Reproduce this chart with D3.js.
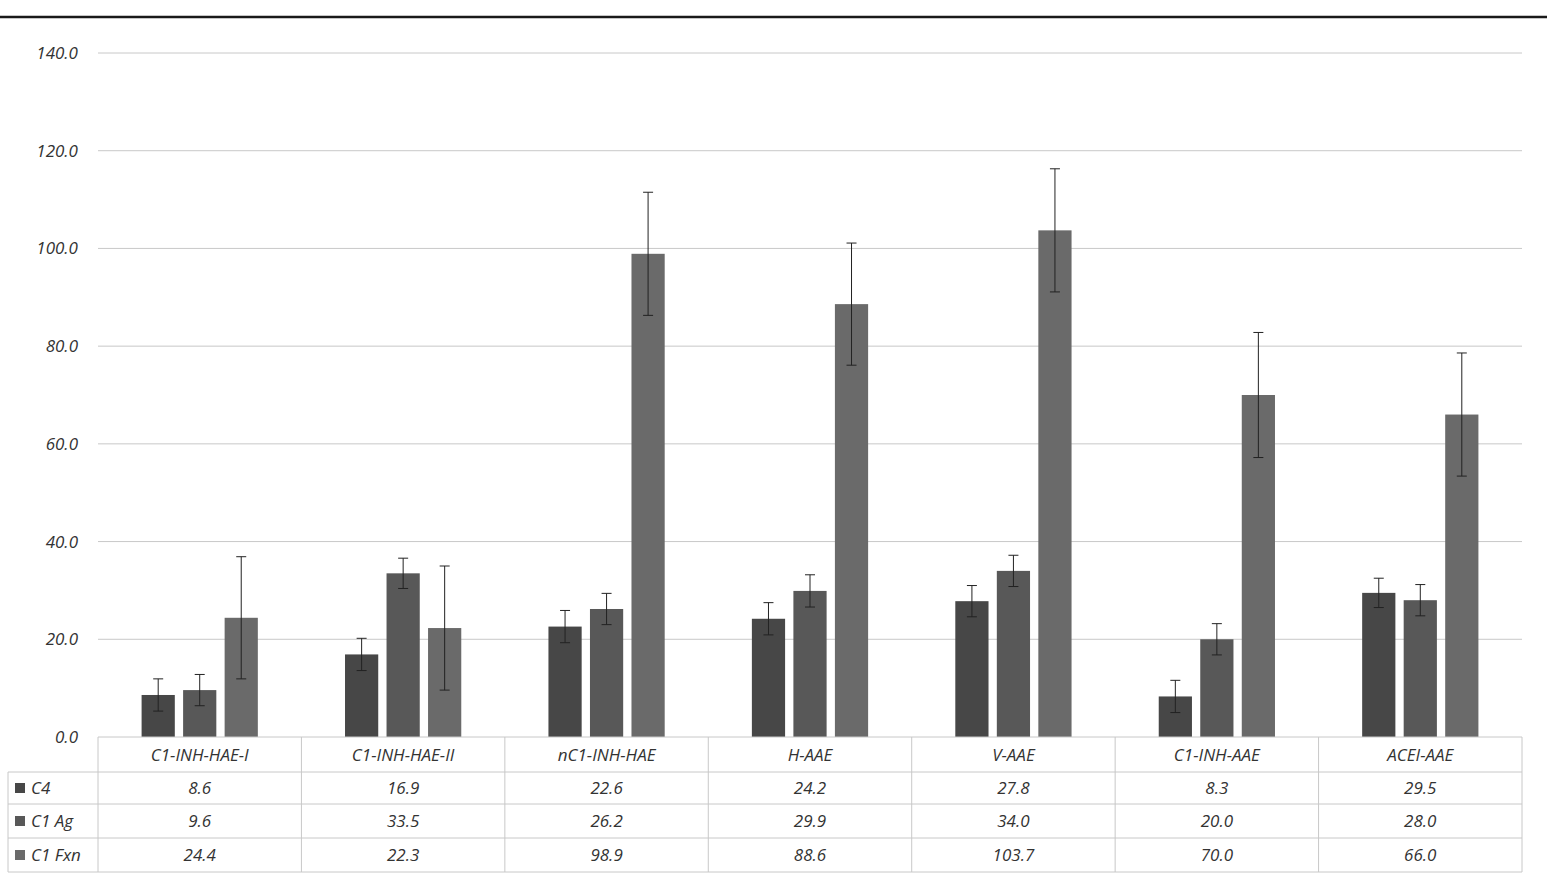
<!DOCTYPE html>
<html><head><meta charset="utf-8">
<script src="https://cdn.jsdelivr.net/npm/d3@7"></script>
<style>body{margin:0;background:#fff}text{font-family:"Open Sans",sans-serif;font-style:italic;fill:#333}</style>
</head><body><svg id="c" width="1547" height="886"></svg>
<script>
const categories = ["C1-INH-HAE-I","C1-INH-HAE-II","nC1-INH-HAE","H-AAE","V-AAE","C1-INH-AAE","ACEI-AAE"];
const seriesNames = ["C4","C1 Ag","C1 Fxn"];
const c4 = [8.6,16.9,22.6,24.2,27.8,8.3,29.5];
const c1ag = [9.6,33.5,26.2,29.9,34.0,20.0,28.0];
const c1fxn = [24.4,22.3,98.9,88.6,103.7,70.0,66.0];
const c4Err = [3.3,3.3,3.3,3.3,3.2,3.3,3.0];
const c1agErr = [3.2,3.1,3.2,3.3,3.2,3.2,3.2];
const c1fxnErr = [12.5,12.7,12.6,12.5,12.6,12.8,12.6];
const yTicks = [0,20,40,60,80,100,120,140];
const colors = ["#474747","#585858","#6a6a6a"];

const values = [c4, c1ag, c1fxn], errs = [c4Err, c1agErr, c1fxnErr];
const svg = d3.select("#c");
const plotLeft = 98, plotRight = 1522, plotTop = 53, plotBottom = 737;

svg.append("line").attr("x1",0).attr("x2",1547).attr("y1",17).attr("y2",17).attr("stroke","#1a1a1a").attr("stroke-width",2.5);

const x = d3.scaleBand().domain(categories).range([plotLeft, plotRight]);
const xs = d3.scaleBand().domain(seriesNames).range([0, x.bandwidth()]).paddingInner(0.2).paddingOuter(1.05);
const y = d3.scaleLinear().domain([0,140]).range([plotBottom, plotTop]);

// gridlines + y labels
svg.append("g").selectAll("line").data(yTicks.slice(1)).join("line")
  .attr("x1",plotLeft).attr("x2",plotRight).attr("y1",d=>y(d)).attr("y2",d=>y(d))
  .attr("stroke","#c8c8c8").attr("stroke-width",1);
svg.append("g").selectAll("text").data(yTicks).join("text")
  .attr("x",78).attr("y",d=>y(d)+6).attr("text-anchor","end").attr("font-size",17)
  .text(d=>d.toFixed(1));

// bars with error bars
seriesNames.forEach((s,i)=>{
  const g = svg.append("g");
  g.selectAll("rect").data(categories).join("rect")
    .attr("x",c=>x(c)+xs(s)).attr("width",xs.bandwidth())
    .attr("y",(c,j)=>y(values[i][j])).attr("height",(c,j)=>y(0)-y(values[i][j]))
    .attr("fill",colors[i]);
  const cx = c=>x(c)+xs(s)+xs.bandwidth()/2;
  g.selectAll("line.v").data(categories).join("line").attr("class","v")
    .attr("x1",cx).attr("x2",cx)
    .attr("y1",(c,j)=>y(values[i][j]+errs[i][j])).attr("y2",(c,j)=>y(values[i][j]-errs[i][j]))
    .attr("stroke","#222").attr("stroke-width",1);
  [1,-1].forEach(sg=>{
    g.selectAll("line.c"+(sg>0?"u":"d")).data(categories).join("line").attr("class","c"+(sg>0?"u":"d"))
      .attr("x1",c=>cx(c)-5).attr("x2",c=>cx(c)+5)
      .attr("y1",(c,j)=>y(values[i][j]+sg*errs[i][j])).attr("y2",(c,j)=>y(values[i][j]+sg*errs[i][j]))
      .attr("stroke","#222").attr("stroke-width",1);
  });
});

// data table
const rowY = [737,772,804,838,872];
const t = svg.append("g").attr("stroke","#c8c8c8").attr("stroke-width",1);
t.append("line").attr("x1",plotLeft).attr("x2",plotRight).attr("y1",rowY[0]).attr("y2",rowY[0]);
rowY.slice(1).forEach(ry=>t.append("line").attr("x1",8).attr("x2",plotRight).attr("y1",ry).attr("y2",ry));
categories.concat(["end"]).forEach((c,j)=>{
  const xx = j<categories.length ? x(c) : plotRight;
  t.append("line").attr("x1",xx).attr("x2",xx).attr("y1",rowY[0]).attr("y2",rowY[4]);
});
t.append("line").attr("x1",8).attr("x2",8).attr("y1",rowY[1]).attr("y2",rowY[4]);

svg.append("g").selectAll("text").data(categories).join("text")
  .attr("x",c=>x(c)+x.bandwidth()/2).attr("y",(rowY[0]+rowY[1])/2+6)
  .attr("text-anchor","middle").attr("font-size",17).text(c=>c);

seriesNames.forEach((s,i)=>{
  const cy = (rowY[i+1]+rowY[i+2])/2;
  svg.append("rect").attr("x",15).attr("y",cy-5).attr("width",10).attr("height",10).attr("fill",colors[i]);
  svg.append("text").attr("x",31).attr("y",cy+6).attr("font-size",17).text(s);
  svg.append("g").selectAll("text").data(categories).join("text")
    .attr("x",c=>x(c)+x.bandwidth()/2).attr("y",cy+6).attr("text-anchor","middle").attr("font-size",17)
    .text((c,j)=>values[i][j].toFixed(1));
});
</script></body></html>
